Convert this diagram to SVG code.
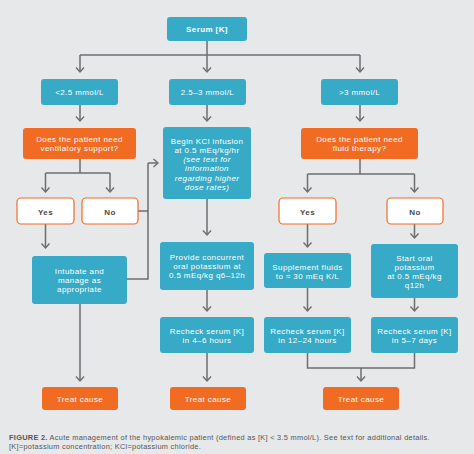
<svg xmlns="http://www.w3.org/2000/svg" width="474" height="454" viewBox="0 0 474 454">
<defs>
<marker id="arr" markerUnits="userSpaceOnUse" markerWidth="12" markerHeight="12" refX="6" refY="6" orient="auto">
<path d="M1.5,2 L6,6 L1.5,10" fill="none" stroke="#6d6e70" stroke-width="1.4"/>
</marker>
<style>
.t{fill:#36aac6}
.o{fill:#f26b23}
.w{fill:#ffffff;stroke:#f26b23;stroke-width:1.2}
text{font-family:"Liberation Sans",Arial,sans-serif;font-size:8px;letter-spacing:0.4px;text-anchor:middle;fill:#ffffff}
.b{font-weight:bold}
.i{font-style:italic}
.d{fill:#4a4a4a;font-weight:bold}
.c line,.c polyline{fill:none;stroke:#6d6e70;stroke-width:1.5}
.cap{font-size:7.4px;letter-spacing:0.28px;text-anchor:start;fill:#555555}
</style>
</defs>
<rect x="0" y="0" width="474" height="454" fill="#e7e8e9"/>
<g class="c" id="connectors">
<line x1="207" y1="41" x2="207" y2="55"/>
<line x1="80" y1="55" x2="360" y2="55"/>
<line x1="80" y1="55" x2="80" y2="72" marker-end="url(#arr)"/>
<line x1="207" y1="55" x2="207" y2="72" marker-end="url(#arr)"/>
<line x1="360" y1="55" x2="360" y2="72" marker-end="url(#arr)"/>
<line x1="80" y1="105" x2="80" y2="121" marker-end="url(#arr)"/>
<line x1="207" y1="105" x2="207" y2="121" marker-end="url(#arr)"/>
<line x1="360" y1="105" x2="360" y2="121" marker-end="url(#arr)"/>
<line x1="80" y1="159" x2="80" y2="173"/>
<line x1="45.5" y1="173" x2="110" y2="173"/>
<line x1="45.5" y1="173" x2="45.5" y2="192" marker-end="url(#arr)"/>
<line x1="110" y1="173" x2="110" y2="192" marker-end="url(#arr)"/>
<line x1="45.5" y1="224" x2="45.5" y2="248" marker-end="url(#arr)"/>
<polyline points="138,211 148,211"/>
<polyline points="127,279 148,279 148,163"/>
<line x1="148" y1="163" x2="158" y2="163" marker-end="url(#arr)"/>
<line x1="80" y1="304" x2="80" y2="381" marker-end="url(#arr)"/>
<line x1="207" y1="199" x2="207" y2="235" marker-end="url(#arr)"/>
<line x1="207" y1="290" x2="207" y2="311" marker-end="url(#arr)"/>
<line x1="207" y1="353" x2="207" y2="381" marker-end="url(#arr)"/>
<line x1="360" y1="159" x2="360" y2="174"/>
<line x1="307.5" y1="174" x2="414.5" y2="174"/>
<line x1="307.5" y1="174" x2="307.5" y2="192" marker-end="url(#arr)"/>
<line x1="414.5" y1="174" x2="414.5" y2="192" marker-end="url(#arr)"/>
<line x1="307.5" y1="224" x2="307.5" y2="247" marker-end="url(#arr)"/>
<line x1="414.5" y1="224" x2="414.5" y2="238" marker-end="url(#arr)"/>
<line x1="307.5" y1="288" x2="307.5" y2="311" marker-end="url(#arr)"/>
<line x1="414.5" y1="298" x2="414.5" y2="311" marker-end="url(#arr)"/>
<polyline points="307.5,353 307.5,368 414.5,368 414.5,353"/>
<line x1="361" y1="368" x2="361" y2="381" marker-end="url(#arr)"/>
</g>
<g id="serum"><rect class="t" x="167" y="17" width="80" height="24" rx="3"/><text class="b" x="207" y="32">Serum [K]</text></g>
<g id="lt25"><rect class="t" x="41" y="79" width="77" height="26" rx="3"/><text x="79.5" y="95">&lt;2.5 mmol/L</text></g>
<g id="mid25"><rect class="t" x="169" y="79" width="77" height="26" rx="3"/><text x="207.5" y="95">2.5–3 mmol/L</text></g>
<g id="gt3"><rect class="t" x="321" y="79" width="77" height="26" rx="3"/><text x="359.5" y="95">&gt;3 mmol/L</text></g>
<g id="vent"><rect class="o" x="23" y="128" width="113" height="31" rx="3"/><text x="79.5" y="142.3">Does the patient need</text><text x="79.5" y="151.4">ventilatory support?</text></g>
<g id="fluid"><rect class="o" x="301" y="128" width="117" height="31" rx="3"/><text x="359.5" y="142.3">Does the patient need</text><text x="359.5" y="151.4">fluid therapy?</text></g>
<g id="kcl"><rect class="t" x="163" y="127" width="88" height="72" rx="3"/>
<text x="207" y="143.8">Begin KCl infusion</text><text x="207" y="153">at 0.5 mEq/kg/hr</text>
<text class="i" x="207" y="162.2">(see text for</text><text class="i" x="207" y="171.4">information</text><text class="i" x="207" y="180.6">regarding higher</text><text class="i" x="207" y="189.8">dose rates)</text></g>
<g id="yes1"><rect class="w" x="17" y="198" width="57" height="26" rx="4"/><text class="d" x="45.5" y="214.8">Yes</text></g>
<g id="no1"><rect class="w" x="82" y="198" width="56" height="26" rx="4"/><text class="d" x="110" y="214.8">No</text></g>
<g id="yes2"><rect class="w" x="279" y="198" width="57" height="26" rx="4"/><text class="d" x="307.5" y="214.8">Yes</text></g>
<g id="no2"><rect class="w" x="387" y="198" width="56" height="26" rx="4"/><text class="d" x="415" y="214.8">No</text></g>
<g id="intubate"><rect class="t" x="32" y="256" width="95" height="48" rx="3"/><text x="79.5" y="273.5">Intubate and</text><text x="79.5" y="282.7">manage as</text><text x="79.5" y="291.9">appropriate</text></g>
<g id="oralk"><rect class="t" x="160" y="242" width="94" height="48" rx="3"/><text x="207" y="260">Provide concurrent</text><text x="207" y="269.2">oral potassium at</text><text x="207" y="278.4">0.5 mEq/kg q6–12h</text></g>
<g id="supp"><rect class="t" x="264" y="253" width="87" height="35" rx="3"/><text x="307.5" y="269.8">Supplement fluids</text><text x="307.5" y="279">to ≈ 30 mEq K/L</text></g>
<g id="startoral"><rect class="t" x="371" y="244" width="87" height="54" rx="3"/><text x="414.5" y="260.8">Start oral</text><text x="414.5" y="270">potassium</text><text x="414.5" y="279.2">at 0.5 mEq/kg</text><text x="414.5" y="288.4">q12h</text></g>
<g id="re46"><rect class="t" x="160" y="317" width="94" height="36" rx="3"/><text x="207" y="333.5">Recheck serum [K]</text><text x="207" y="342.7">in 4–6 hours</text></g>
<g id="re1224"><rect class="t" x="264" y="317" width="87" height="36" rx="3"/><text x="307.5" y="333.5">Recheck serum [K]</text><text x="307.5" y="342.7">in 12–24 hours</text></g>
<g id="re57"><rect class="t" x="371" y="317" width="87" height="36" rx="3"/><text x="414.5" y="333.5">Recheck serum [K]</text><text x="414.5" y="342.7">in 5–7 days</text></g>
<g id="treat1"><rect class="o" x="42" y="387" width="76" height="23" rx="3"/><text x="80" y="401.5">Treat cause</text></g>
<g id="treat2"><rect class="o" x="170" y="387" width="76" height="23" rx="3"/><text x="208" y="401.5">Treat cause</text></g>
<g id="treat3"><rect class="o" x="323" y="387" width="76" height="23" rx="3"/><text x="361" y="401.5">Treat cause</text></g>
<g id="caption">
<text class="cap" x="9" y="440"><tspan font-weight="bold">FIGURE 2.</tspan> Acute management of the hypokalemic patient (defined as [K] &lt; 3.5 mmol/L). See text for additional details.</text>
<text class="cap" x="9" y="449">[K]=potassium concentration; KCl=potassium chloride.</text>
</g>
</svg>
